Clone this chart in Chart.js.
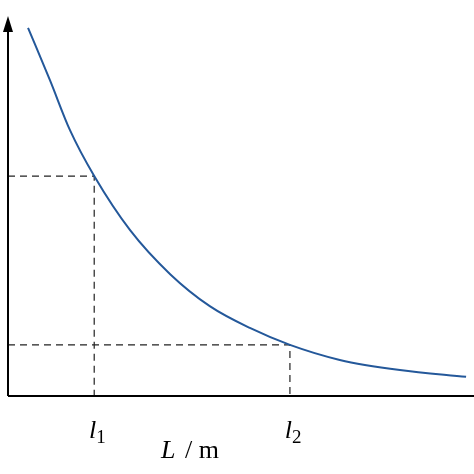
<!DOCTYPE html>
<html><head><meta charset="utf-8">
<script src="https://cdn.jsdelivr.net/npm/chart.js@4"></script>
<style>html,body{margin:0;padding:0;background:#fff}#c{width:474px;height:474px}</style>
</head><body><div id="c"><canvas id="chart" width="474" height="474"></canvas></div>
<script>
// curve samples (x, y in 0..100 units)
const curveX = [4.3, 9.0, 13.3, 18.5, 26.2, 34.8, 43.3, 51.9, 60.5, 71.2, 84.1, 98.3];
const curveY = [97.9, 84.0, 70.7, 58.5, 44.1, 32.4, 23.9, 18.1, 13.6, 9.6, 6.9, 5.1];
// marked points l1, l2
const markX = [18.5, 60.5];
const markY = [58.5, 13.6];
const markLabels = ['1', '2'];

const curveColor = '#24589a';
const dash = { borderColor: '#222', borderWidth: 1.2, borderDash: [7, 5], pointRadius: 0, fill: false, tension: 0 };

const datasets = [{
    data: curveX.map((x, i) => ({ x: x, y: curveY[i] })),
    borderColor: curveColor, borderWidth: 2, pointRadius: 0, cubicInterpolationMode: 'monotone', fill: false
}];
markX.forEach((x, i) => {
    datasets.push({ ...dash, data: [{ x: 0, y: markY[i] }, { x: x, y: markY[i] }, { x: x, y: 0 }] });
});

// axes, arrow and labels
const axesPlugin = {
    id: 'axes',
    afterDraw(chart) {
        const ctx = chart.ctx, a = chart.chartArea, xs = chart.scales.x;
        ctx.save();
        ctx.strokeStyle = '#000'; ctx.lineWidth = 2;
        ctx.beginPath();
        ctx.moveTo(a.left, a.bottom); ctx.lineTo(a.right, a.bottom);
        ctx.moveTo(a.left, a.bottom); ctx.lineTo(a.left, a.top + 8);
        ctx.stroke();
        ctx.fillStyle = '#000';
        ctx.beginPath();
        ctx.moveTo(a.left, a.top - 4); ctx.lineTo(a.left - 5, a.top + 12); ctx.lineTo(a.left + 5, a.top + 12);
        ctx.closePath(); ctx.fill();
        markX.forEach((x, i) => {
            const px = xs.getPixelForValue(x);
            ctx.font = 'italic 26px "Liberation Serif"';
            ctx.textAlign = 'right'; ctx.textBaseline = 'alphabetic';
            ctx.fillText('l', px + 2, a.bottom + 42);
            ctx.font = '19px "Liberation Serif"'; ctx.textAlign = 'left';
            ctx.fillText(markLabels[i], px + 2, a.bottom + 47);
        });
        ctx.font = 'italic 26px "Liberation Serif"'; ctx.textAlign = 'left';
        ctx.fillText('L', 161, a.bottom + 62);
        ctx.font = '26px "Liberation Serif"';
        ctx.fillText('/ m', 185, a.bottom + 62);
        ctx.restore();
    }
};

new Chart(document.getElementById('chart'), {
    type: 'line',
    data: { datasets: datasets },
    options: {
        responsive: false, animation: false,
        layout: { padding: { left: 8, right: 0, top: 20, bottom: 78 } },
        plugins: { legend: { display: false }, tooltip: { enabled: false } },
        scales: {
            x: { type: 'linear', min: 0, max: 100, display: false },
            y: { type: 'linear', min: 0, max: 100, display: false }
        }
    },
    plugins: [axesPlugin]
});
</script></body></html>
